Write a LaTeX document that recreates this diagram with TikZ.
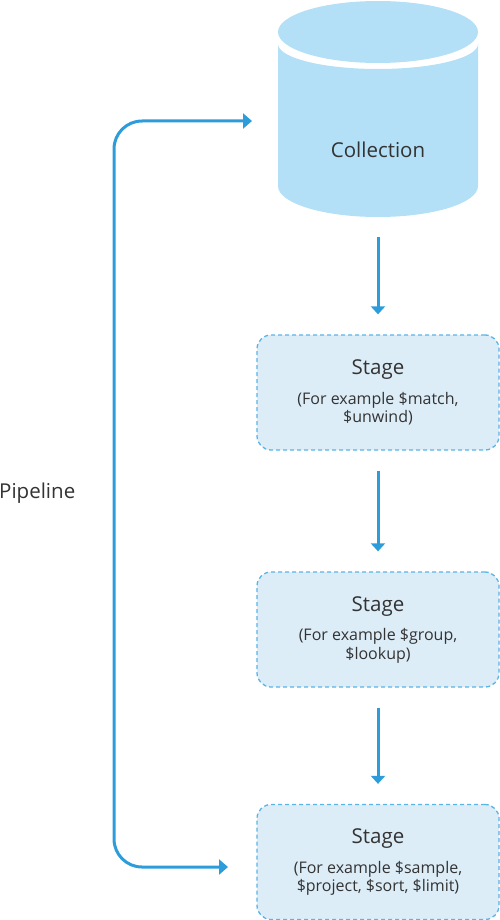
\documentclass[tikz,border=0pt]{standalone}
\usepackage{fontspec}
\setmainfont{Open Sans}
\usetikzlibrary{arrows.meta}
\definecolor{cylfill}{HTML}{B3E0F6}
\definecolor{boxfill}{HTML}{DCEDF8}
\definecolor{boxline}{HTML}{5AB4E5}
\definecolor{arrowc}{HTML}{2D9CDB}
\definecolor{txt}{HTML}{333333}
\begin{document}
\begin{tikzpicture}[x=1pt,y=-1pt,
  stagebox/.style={draw=boxline, fill=boxfill, line width=1.3pt,
    dash pattern=on 4pt off 3pt, rounded corners=14pt,
    minimum width=242pt, minimum height=115pt, align=center, text=txt,
    font=\fontsize{16}{18.5}\selectfont, inner sep=0pt},
  flow/.style={draw=arrowc, line width=3pt, -{Triangle[width=14pt,length=8pt]}},
  bracket/.style={draw=arrowc, line width=3pt, rounded corners=28pt,
    {Triangle[width=15pt,length=9pt]}-{Triangle[width=15pt,length=9pt]}},
  lbl/.style={text=txt, font=\fontsize{20.5}{24}\selectfont, inner sep=0pt}
]
\useasboundingbox (0,0) rectangle (500,920);
% cylinder
\fill[cylfill] (278,44) -- (278,186)
  arc[start angle=180, end angle=360, x radius=100pt, y radius=31pt]
  -- (478,44)
  arc[start angle=0, end angle=-180, x radius=100pt, y radius=25pt] -- cycle;
\fill[cylfill] (378,32) ellipse [x radius=100pt, y radius=31pt];
\node[minimum width=200pt, minimum height=217pt, inner sep=0pt] (cyl) at (378,108.5) {};
\node[lbl] (coll) at (378,150) {Collection};
% stages
\node[stagebox] (s1) at (378,392.5) {{\fontsize{20.5}{24}\selectfont Stage}\\[11pt](For example \$match,\\\$unwind)};
\node[stagebox] (s2) at (378,629.5) {{\fontsize{20.5}{24}\selectfont Stage}\\[11pt](For example \$group,\\\$lookup)};
\node[stagebox] (s3) at (378,862) {{\fontsize{20.5}{24}\selectfont Stage}\\[11pt](For example \$sample,\\\$project, \$sort, \$limit)};
% arrows
\draw[flow] ([yshift=-20pt]cyl.south) -- ([yshift=20pt]s1.north);
\draw[flow] ([yshift=-20pt]s1.south) -- ([yshift=20pt]s2.north);
\draw[flow] ([yshift=-20pt]s2.south) -- ([yshift=20pt]s3.north);
% pipeline bracket
\coordinate (ptop) at (252,121);
\coordinate (pbot) at (228,867);
\draw[bracket] (ptop) -| (114,494) |- (pbot);
\node[lbl, anchor=west] (plabel) at (-1,493) {Pipeline};
\end{tikzpicture}
\end{document}
